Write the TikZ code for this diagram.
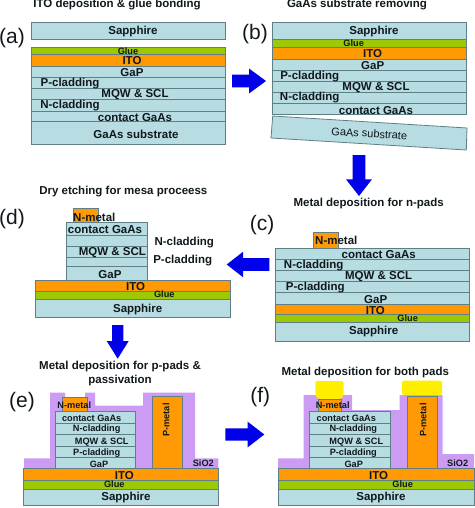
\documentclass[tikz,border=0pt]{standalone}
\usepackage{fontspec}
\setmainfont{Liberation Sans}
\definecolor{layerblue}{HTML}{B7DCE2}
\definecolor{layeredge}{HTML}{5E7F85}
\definecolor{itoorange}{HTML}{FF9A05}
\definecolor{glueolive}{HTML}{9CC804}
\definecolor{sioviolet}{HTML}{CC9CF5}
\definecolor{padyellow}{HTML}{FFEE00}
\definecolor{inkdark}{HTML}{10181C}
\tikzset{
  lay/.style={draw=layeredge,line width=0.8pt,fill=layerblue},
  ito/.style={lay,fill=itoorange},
  glue/.style={lay,fill=glueolive},
  metal/.style={draw=#1,line width=0.7pt,fill=itoorange},
  metal/.default={black!60!orange},
  sio/.style={fill=sioviolet},
  pad/.style={fill=padyellow,rounded corners=2pt},
  flow/.style={fill=blue!92!black},
  lab/.style={font=\bfseries\fontsize{11.5}{12}\selectfont,text=inkdark,inner sep=0pt},
  title/.style={font=\bfseries\fontsize{11.5}{14}\selectfont,text=inkdark,inner sep=0pt,align=center},
  mid/.style={font=\bfseries\fontsize{9.2}{10}\selectfont,text=inkdark,inner sep=0pt},
  sml/.style={font=\bfseries\fontsize{9.2}{10}\selectfont,text=inkdark,inner sep=0pt},
  tag/.style={font=\fontsize{21}{22}\selectfont,text=inkdark,inner sep=0pt},
}
\newcommand{\arrowR}[6]{% xstart, xbase, xtip, yc, shaft half, head half
  \fill[flow] (#1,#4-#5) -- (#2,#4-#5) -- (#2,#4-#6) -- (#3,#4) -- (#2,#4+#6) -- (#2,#4+#5) -- (#1,#4+#5) -- cycle;}
\newcommand{\arrowD}[6]{% ystart, ybase, ytip, xc, shaft half, head half
  \fill[flow] (#4-#5,#1) -- (#4-#5,#2) -- (#4-#6,#2) -- (#4,#3) -- (#4+#6,#2) -- (#4+#5,#2) -- (#4+#5,#1) -- cycle;}
\begin{document}
\begin{tikzpicture}[x=1pt,y=-1pt]
\useasboundingbox (0,0) rectangle (474,508);
% ---------- (a)
\draw[lay] (31,22) rectangle (225,39);
\draw[glue] (31,47) rectangle (225,54);
\draw[ito] (31,54) rectangle (225,66);
\draw[lay] (31,66) rectangle (225,77);
\draw[lay] (31,77) rectangle (225,88);
\draw[lay] (31,88) rectangle (225,99.5);
\draw[lay] (31,99.5) rectangle (225,111);
\draw[lay] (31,111) rectangle (225,121.5);
\draw[lay] (31,121.5) rectangle (225,144);
\node[title] (ta) at (117,5) {ITO deposition \& glue bonding};
\node[tag] (la) at (12,38) {(a)};
\node[lab] (a1) at (133,32) {Sapphire};
\node[sml] (a2) at (128,51) {Glue};
\node[lab] (a3) at (132,61) {ITO};
\node[lab] (a4) at (132,73) {GaP};
\node[lab] (a5) at (70,83.5) {P-cladding};
\node[lab] (a6) at (135,95) {MQW \& SCL};
\node[lab] (a7) at (70,105.5) {N-cladding};
\node[lab] (a8) at (135,117.5) {contact GaAs};
\node[lab] (a9) at (136,134.5) {GaAs substrate};
% ---------- (b)
\draw[lay] (272,22) rectangle (466,39.5);
\draw[glue] (272,39.5) rectangle (466,47.5);
\draw[ito] (272,47.5) rectangle (466,59);
\draw[lay] (272,59) rectangle (466,70);
\draw[lay] (272,70) rectangle (466,81);
\draw[lay] (272,81) rectangle (466,92);
\draw[lay] (272,92) rectangle (466,103);
\draw[lay] (272,103) rectangle (466,114.5);
\draw[lay] (272.7,116) -- (467,128) -- (466.3,150) -- (271,138) -- cycle;
\node[title] (tb) at (357,5) {GaAs substrate removing};
\node[tag] (lb) at (255,34) {(b)};
\node[lab] (b1) at (374,32) {Sapphire};
\node[sml] (b2) at (353.7,43.3) {Glue};
\node[lab] (b3) at (372.7,54) {ITO};
\node[lab] (b4) at (372.7,66) {GaP};
\node[lab] (b5) at (309.7,76.7) {P-cladding};
\node[lab] (b6) at (376,88) {MQW \& SCL};
\node[lab] (b7) at (309.7,98) {N-cladding};
\node[lab] (b8) at (376,110.7) {contact GaAs};
\node[lab,font=\fontsize{11}{12}\selectfont,rotate=-3.5] (b9) at (369.3,133.5) {GaAs substrate};
% ---------- (c)
\draw[metal=layeredge] (313,232.7) rectangle (338,248);
\draw[lay] (275,248) rectangle (469,259);
\draw[lay] (275,259) rectangle (469,270.5);
\draw[lay] (275,270.5) rectangle (469,281.5);
\draw[lay] (275,281.5) rectangle (469,292.5);
\draw[lay] (275,292.5) rectangle (469,304.5);
\draw[ito] (275,304.5) rectangle (469,314);
\draw[glue] (275,314) rectangle (469,322);
\draw[lay] (275,322) rectangle (469,341.5);
\node[title] (tc) at (368.7,204) {Metal deposition for n-pads};
\node[tag] (lc) at (262,225) {(c)};
\node[lab] (c0) at (336.3,240.5) {N-metal};
\node[lab] (c1) at (378.7,255) {contact GaAs};
\node[lab] (c2) at (313.7,266) {N-cladding};
\node[lab] (c3) at (378.7,277) {MQW \& SCL};
\node[lab] (c4) at (315.3,288) {P-cladding};
\node[lab] (c5) at (375.7,299.5) {GaP};
\node[lab] (c6) at (375.3,311) {ITO};
\node[sml] (c7) at (407.7,318.5) {Glue};
\node[lab] (c8) at (373.7,332) {Sapphire};
% ---------- (d)
\draw[metal=layeredge] (73,208.7) rectangle (98,222.7);
\draw[lay] (66,222.7) rectangle (147,235);
\draw[lay] (66,235) rectangle (147,246.5);
\draw[lay] (66,246.5) rectangle (147,257.5);
\draw[lay] (66,257.5) rectangle (147,266);
\draw[lay] (66,266) rectangle (147,280);
\draw[ito] (35,280) rectangle (230,291.5);
\draw[glue] (35,291.5) rectangle (230,299);
\draw[lay] (35,299) rectangle (230,317);
\node[title] (td) at (123.3,192) {Dry etching for mesa proceess};
\node[tag] (ld) at (12,219) {(d)};
\node[lab] (d0) at (94.3,217.5) {N-metal};
\node[lab] (d1) at (105,230) {contact GaAs};
\node[lab] (d2) at (184.3,242.5) {N-cladding};
\node[lab] (d3) at (112.3,253) {MQW \& SCL};
\node[lab] (d4) at (182.7,260.5) {P-cladding};
\node[lab] (d5) at (110,274.5) {GaP};
\node[lab] (d6) at (135.7,287) {ITO};
\node[sml] (d7) at (164.3,294) {Glue};
\node[lab] (d8) at (137.7,310) {Sapphire};
% ---------- (e)
\fill[sio] (24,468.3) -- (24,458.3) -- (50,458.3) -- (50,392.7) -- (65,392.7) -- (65,397.3) -- (85,397.3) -- (85,392.7) -- (95,392.7) -- (95,405.7) -- (143,405.7) -- (143,392.7) -- (195,392.7) -- (195,458.3) -- (218.3,458.3) -- (218.3,468.3) -- cycle;
\draw[metal=layeredge] (62,397.3) rectangle (87,411.3);
\draw[metal=layeredge] (152.7,396.7) rectangle (182.7,468.3);
\draw[lay] (55,411.3) rectangle (135.7,423.3);
\draw[lay] (55,423.3) rectangle (135.7,434.7);
\draw[lay] (55,434.7) rectangle (135.7,446);
\draw[lay] (55,446) rectangle (135.7,457.3);
\draw[lay] (55,457.3) rectangle (135.7,468.3);
\draw[ito] (23.7,468.3) rectangle (218.3,480);
\draw[glue] (23.7,480) rectangle (218.3,489.7);
\draw[lay] (23.7,489.7) rectangle (218.3,505.7);
\node[title] (te) at (120,374) {Metal deposition for p-pads \&\\passivation};
\node[tag] (le) at (22,402) {(e)};
\node[sml] (e0) at (74.3,405) {N-metal};
\node[mid] (e1) at (91.7,418) {contact GaAs};
\node[mid] (e2) at (96.7,429) {N-cladding};
\node[mid] (e3) at (101.7,442) {MQW \& SCL};
\node[mid] (e4) at (96.7,453) {P-cladding};
\node[mid] (e5) at (99,464) {GaP};
\node[lab] (e6) at (124.3,475.5) {ITO};
\node[mid] (e7) at (114.3,484.5) {Glue};
\node[lab] (e8) at (126,498) {Sapphire};
\node[mid,rotate=90] (e9) at (166,420) {P-metal};
\node[mid] (e10) at (203.3,463.5) {SiO2};
% ---------- (f)
\fill[sio] (278,468.3) -- (278,458.3) -- (303.7,458.3) -- (303.7,395) -- (352,395) -- (352,410) -- (399.7,410) -- (399.7,395) -- (442.7,395) -- (442.7,454) -- (474,454) -- (474,468.3) -- cycle;
\fill[pad] (315.3,381) -- (343.7,381) -- (343.7,395) -- (341,399.3) -- (318,399.3) -- (315.3,395) -- cycle;
\fill[pad] (402,380.7) -- (442,380.7) -- (442,395) -- (402,395) -- cycle;
\draw[metal=layeredge] (318,399.3) rectangle (341.3,411.3);
\draw[metal=layeredge] (407.3,396.7) rectangle (437.3,468.3);
\draw[lay] (309.7,411.3) rectangle (390.3,423.3);
\draw[lay] (309.7,423.3) rectangle (390.3,434.7);
\draw[lay] (309.7,434.7) rectangle (390.3,446);
\draw[lay] (309.7,446) rectangle (390.3,457.3);
\draw[lay] (309.7,457.3) rectangle (390.3,468.3);
\draw[ito] (278,468.3) rectangle (474.5,480);
\draw[glue] (278,480) rectangle (474.5,489.7);
\draw[lay] (278,489.7) rectangle (474.5,505.7);
\node[title] (tf) at (365.3,373) {Metal deposition for both pads};
\node[tag] (lf) at (260.3,397) {(f)};
\node[sml] (f0) at (332.7,405) {N-metal};
\node[mid] (f1) at (346.3,418) {contact GaAs};
\node[mid] (f2) at (353.3,429) {N-cladding};
\node[mid] (f3) at (356.3,442) {MQW \& SCL};
\node[mid] (f4) at (353.3,453) {P-cladding};
\node[mid] (f5) at (353.7,464) {GaP};
\node[lab] (f6) at (378.7,475.5) {ITO};
\node[mid] (f7) at (402.7,484.5) {Glue};
\node[lab] (f8) at (381,498) {Sapphire};
\node[mid,rotate=90] (f9) at (423,420) {P-metal};
\node[mid] (f10) at (457.7,463.5) {SiO2};
% ---------- block arrows
\arrowR{232}{249}{266}{81}{6.3}{12.5}
\arrowD{155}{179.3}{196}{359}{6.3}{13}
\arrowR{269.3}{243}{226.7}{264.5}{6.3}{12.7}
\arrowD{325}{341}{358.7}{117.7}{5.7}{11}
\arrowR{225.3}{247.7}{264.3}{434.5}{6.2}{12.8}
\end{tikzpicture}
\end{document}
